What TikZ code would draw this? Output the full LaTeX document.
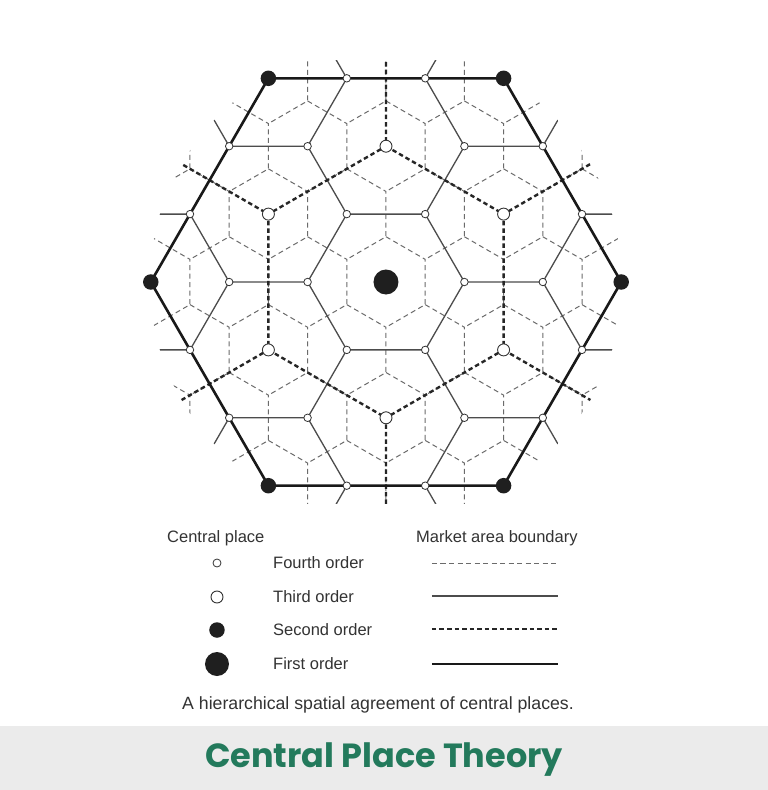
\documentclass[tikz,border=0pt]{standalone}
\usepackage{fontspec}
\setmainfont{Liberation Sans}
\newfontfamily\titlefont{Poppins}
\usepackage{xcolor}
\usepackage{tikz}
\usetikzlibrary{positioning,calc}

\definecolor{bandgray}{HTML}{EBEBEB}
\definecolor{titlegreen}{HTML}{237A5C}
\definecolor{areagray}{HTML}{5A5A5A}

\begin{document}
\begin{tikzpicture}[x=1pt,y=1pt,
    fourth/.style={draw=areagray!90, line width=1pt, dash pattern=on 5pt off 3.5pt},
    third/.style={draw=areagray!85!black, line width=1.3pt},
    second/.style={draw=black!85, line width=2.4pt, dash pattern=on 4.5pt off 3pt},
    first/.style={draw=black!90, line width=2.6pt},
    place4/.style={circle, draw=black!80, fill=white, line width=0.8pt, inner sep=0pt, minimum size=7.5pt},
    place3/.style={circle, draw=black!80, fill=white, line width=0.9pt, inner sep=0pt, minimum size=12pt},
    place2/.style={circle, fill=black!88, inner sep=0pt, minimum size=15.5pt},
    place1/.style={circle, fill=black!88, inner sep=0pt, minimum size=25pt},
    legtext/.style={font=\fontsize{16.5}{19}\selectfont, text=black!80, inner sep=0pt}]
    \useasboundingbox (-386,-508) rectangle (382,282);
    \fill[white] (-386,-508) rectangle (382,282);
    \pgfmathsetmacro\cpd{78.4}
    \pgfmathsetmacro\rfour{\cpd/sqrt(3)}
    \pgfmathsetmacro\rthree{\cpd}
    \pgfmathsetmacro\rtwo{\cpd*sqrt(3)}
    \pgfmathsetmacro\rone{3*\cpd}
    %
    % market areas, cut round the first order hexagon
    \begin{scope}
        \clip (0,0) circle (236);
        \clip (-300,-221) rectangle (300,221);
        \foreach \i in {-6,...,6}
        \foreach \j in {-3,...,3}
        \draw[fourth, shift={({(\i+0.5*(\j))*\cpd},{0.866*(\j)*\cpd})}]
            (90:\rfour) -- (30:\rfour) -- (-30:\rfour) -- (-90:\rfour);
        \foreach \m in {-3,...,3}
        \foreach \n in {-4,...,4}
        \draw[third, shift={({1.5*(\m)*\cpd},{(0.866*(\m)+1.732*(\n))*\cpd})}]
            (120:\rthree) -- (60:\rthree) -- (0:\rthree) -- (-60:\rthree);
        \foreach \m in {-2,...,2}
        \foreach \n in {-2,...,2}
        \draw[second, shift={({(3*(\m)+1.5*(\n))*\cpd},{2.598*(\n)*\cpd})}]
            (90:\rtwo) -- (30:\rtwo) -- (-30:\rtwo) -- (-90:\rtwo);
    \end{scope}
    %
    \foreach \k in {0,...,5}
    \coordinate (s\k) at (60*\k:\rone);
    \draw[first] (s0) -- (s1) -- (s2) -- (s3) -- (s4) -- (s5) -- cycle;
    %
    % central places
    \node[place1] (first) at (0,0) {};
    \foreach \k in {0,...,5} {
        \node[place2] (second\k) at (s\k) {};
        \node[place3] (third\k) at (60*\k+30:\rtwo) {};
        \node[place4] (near\k) at (60*\k:\rthree) {};
        \node[place4] (far\k) at (60*\k:2*\rthree) {};
        \node[place4] (edgea\k) at ($(s\k)+(60*\k+120:\rthree)$) {};
        \node[place4] (edgeb\k) at ($(s\k)+(60*\k+120:2*\rthree)$) {};
    }
    %
    % legend
    \node[legtext, anchor=west] (cpl) at (-219,-256) {Central place};
    \node[legtext, anchor=west] (mab) at (30,-256) {Market area boundary};
    \node[place4, minimum size=8pt] (leg4) at (-169,-281) {};
    \node[place3] (leg3) at (-169,-315) {};
    \node[place2] (leg2) at (-169,-348) {};
    \node[place1, minimum size=24pt] (leg1) at (-169,-382) {};
    \node[legtext, anchor=west, right=56pt of leg4.center] (lab4) {Fourth order};
    \node[legtext, anchor=west, right=56pt of leg3.center] (lab3) {Third order};
    \node[legtext, anchor=west, right=56pt of leg2.center] (lab2) {Second order};
    \node[legtext, anchor=west, right=56pt of leg1.center] (lab1) {First order};
    \foreach \t/\y in {4/-281,3/-314,2/-347,1/-382} {
        \coordinate (ln\t a) at (46,\y);
        \coordinate (ln\t b) at (172,\y);
    }
    \draw[fourth] (ln4a) -- (ln4b);
    \draw[third] (ln3a) -- (ln3b);
    \draw[second] (ln2a) -- (ln2b);
    \draw[first] (ln1a) -- (ln1b);
    \node[legtext, font=\fontsize{17.7}{20}\selectfont] (caption) at (-8,-423) {A hierarchical spatial agreement of central places.};
    %
    % title band
    \fill[bandgray] (-386,-444) rectangle (382,-508);
    \node[anchor=base, text=titlegreen, inner sep=0pt, font=\titlefont\bfseries\fontsize{33.5}{38}\selectfont] (title) at (-2,-485) {Central Place Theory};
\end{tikzpicture}
\end{document}
